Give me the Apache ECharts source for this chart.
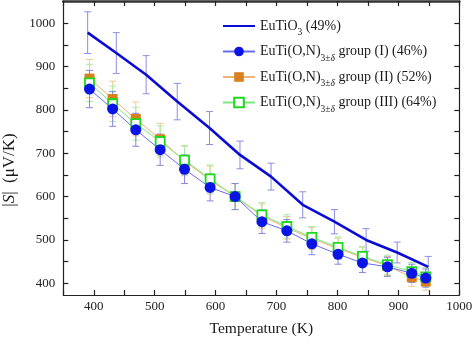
<!DOCTYPE html>
<html><head><meta charset="utf-8">
<script src="https://cdn.jsdelivr.net/npm/echarts@6/dist/echarts.min.js"></script>
<style>html,body{margin:0;padding:0;background:#fff}#c{width:474px;height:344px}</style>
</head><body><div id="c"></div>
<script>
// EuTiO3 (49%)
const tEu = [390, 437, 486, 537, 590, 640, 691, 743, 795, 847, 898, 949];
const sEu = [978, 931, 881, 819, 758, 696, 646, 581, 542, 500, 471, 438];
const eEu = [48, 47, 44, 42, 38, 32, 31, 30, 28, 26, 24, 24];
// groups share temperatures
const tG = [393, 431, 469, 509, 549, 591, 632, 676, 717, 758, 801, 841, 882, 922, 945];
const s1 = [848, 802, 754, 708, 663, 621, 600, 542, 521, 491, 467, 447, 438, 423, 412];
const e1 = [43, 40, 38, 36, 33, 31, 30, 27, 26, 25, 23, 22, 22, 21, 21];
const s2 = [872, 825, 779, 732, 682, 638, 600, 555, 528, 503, 480, 460, 440, 414, 404];
const e2 = [44, 41, 39, 37, 34, 32, 30, 28, 26, 25, 24, 23, 22, 21, 20];
const s3 = [862, 814, 768, 727, 684, 641, 600, 558, 531, 506, 483, 462, 443, 427, 415];
const e3 = [43, 41, 38, 36, 34, 32, 30, 28, 27, 25, 24, 23, 22, 21, 21];
const yTicks = [400, 450, 500, 550, 600, 650, 700, 750, 800, 850, 900, 950, 1000];
const yLabels = [400, 500, 600, 700, 800, 900, 1000];

const FONT = 'Liberation Serif';
const legendText = {
  'EuTiO3': 'EuTiO{s|3} (49%)',
  'G1': 'EuTi(O,N){s|3±}{d|δ} group (I) (46%)',
  'G2': 'EuTi(O,N){s|3±}{d|δ} group (II) (52%)',
  'G3': 'EuTi(O,N){s|3±}{d|δ} group (III) (64%)'
};
const pairs = (xs, ys) => xs.map((x, i) => [x, ys[i]]);

function errSeries(id, xs, ys, es, color) {
  return {
    type: 'custom', name: id, z: 2, silent: true,
    data: xs.map((x, i) => [x, ys[i] - es[i], ys[i] + es[i]]),
    encode: { x: 0, y: [1, 2] },
    renderItem: function (params, api) {
      const lo = api.coord([api.value(0), api.value(1)]);
      const hi = api.coord([api.value(0), api.value(2)]);
      const w = 3.5;
      const st = { stroke: color, lineWidth: 1 };
      return { type: 'group', children: [
        { type: 'line', shape: { x1: lo[0], y1: lo[1], x2: hi[0], y2: hi[1] }, style: st },
        { type: 'line', shape: { x1: lo[0] - w, y1: lo[1], x2: lo[0] + w, y2: lo[1] }, style: st },
        { type: 'line', shape: { x1: hi[0] - w, y1: hi[1], x2: hi[0] + w, y2: hi[1] }, style: st }
      ]};
    }
  };
}

const chart = echarts.init(document.getElementById('c'));
const axisLineStyle = { color: '#222', width: 1.2 };
chart.setOption({
  animation: false,
  backgroundColor: '#fff',
  grid: { left: 63.3, right: 14.7, top: 1, bottom: 49, containLabel: false, outerBoundsMode: 'none' },
  legend: {
    orient: 'vertical', left: 222, top: 19, itemGap: 7, padding: 0,
    itemWidth: 32, itemHeight: 12,
    data: [{ name: 'EuTiO3', itemStyle: { opacity: 0 } }, 'G1', 'G2', 'G3'],
    formatter: n => legendText[n],
    textStyle: {
      fontFamily: FONT, fontSize: 14, color: '#1a1a1a',
      rich: {
        s: { fontFamily: FONT, fontSize: 9.5, color: '#1a1a1a', verticalAlign: 'bottom', padding: [13, 0, 0, 0] },
        d: { fontFamily: FONT, fontSize: 9.5, fontStyle: 'italic', color: '#1a1a1a', verticalAlign: 'bottom', padding: [13, 0, 0, 0] }
      }
    }
  },
  xAxis: [{
    type: 'value', min: 350, max: 1000, interval: 50,
    name: 'Temperature (K)', nameLocation: 'middle', nameGap: 26,
    nameTextStyle: { fontFamily: FONT, fontSize: 15.5, color: '#1a1a1a' },
    axisLine: { lineStyle: axisLineStyle },
    axisTick: { inside: true, length: 5, lineStyle: axisLineStyle },
    axisLabel: { fontFamily: FONT, fontSize: 13, color: '#222', margin: 5,
      formatter: v => (v % 100 === 0 ? String(v) : '') },
    splitLine: { show: false }
  }, {
    type: 'value', position: 'top', min: 350, max: 1000, interval: 50,
    axisLine: { lineStyle: { color: '#333', width: 2.5 } },
    axisTick: { inside: true, length: 5, lineStyle: axisLineStyle },
    axisLabel: { show: false }, splitLine: { show: false }
  }],
  yAxis: [{
    type: 'value', min: 373, max: 1051,
    name: '|{i|S}|  (μV/K){g| }', nameLocation: 'middle', nameGap: 40,
    nameTextStyle: { fontFamily: FONT, fontSize: 17, color: '#1a1a1a',
      rich: {
        i: { fontFamily: FONT, fontSize: 17, fontStyle: 'italic', color: '#1a1a1a' },
        g: { fontFamily: FONT, fontSize: 17, width: 44 }
      } },
    axisLine: { show: true, lineStyle: axisLineStyle },
    axisTick: { show: true, inside: true, length: 5, lineStyle: axisLineStyle, customValues: yTicks },
    axisLabel: { fontFamily: FONT, fontSize: 13, color: '#222', margin: 8, customValues: yLabels,
      formatter: v => String(v) },
    splitLine: { show: false }
  }, {
    type: 'value', position: 'right', min: 373, max: 1051,
    axisLine: { show: true, lineStyle: axisLineStyle },
    axisTick: { show: true, inside: true, length: 5, lineStyle: axisLineStyle, customValues: yTicks },
    axisLabel: { show: false }, splitLine: { show: false }
  }],
  series: [
    errSeries('errEu', tEu, sEu, eEu, '#8d8de3'),
    errSeries('err2', tG, s2, e2, '#f1c98f'),
    errSeries('err3', tG, s3, e3, '#a6eca6'),
    errSeries('err1', tG, s1, e1, '#8585dc'),
    {
      name: 'G2', type: 'line', z: 3, data: pairs(tG, s2),
      symbol: 'rect', symbolSize: 10,
      itemStyle: { color: '#d8811c' },
      lineStyle: { color: '#efb477', width: 1 }
    },
    {
      name: 'G3', type: 'line', z: 4, data: pairs(tG, s3),
      symbol: 'rect', symbolSize: 9,
      itemStyle: { color: '#ffffff', borderColor: '#1fd91f', borderWidth: 1.8 },
      lineStyle: { color: '#7ae87a', width: 1 }
    },
    {
      name: 'G1', type: 'line', z: 5, data: pairs(tG, s1),
      symbol: 'circle', symbolSize: 11,
      itemStyle: { color: '#0a14e6' },
      lineStyle: { color: '#6a6af0', width: 1 }
    },
    {
      name: 'EuTiO3', type: 'line', z: 6, data: pairs(tEu, sEu),
      symbol: 'none', showSymbol: false,
      itemStyle: { color: '#0b0bd6' },
      lineStyle: { color: '#0b0bd6', width: 2.6 }
    }
  ]
});
</script>
</body></html>
